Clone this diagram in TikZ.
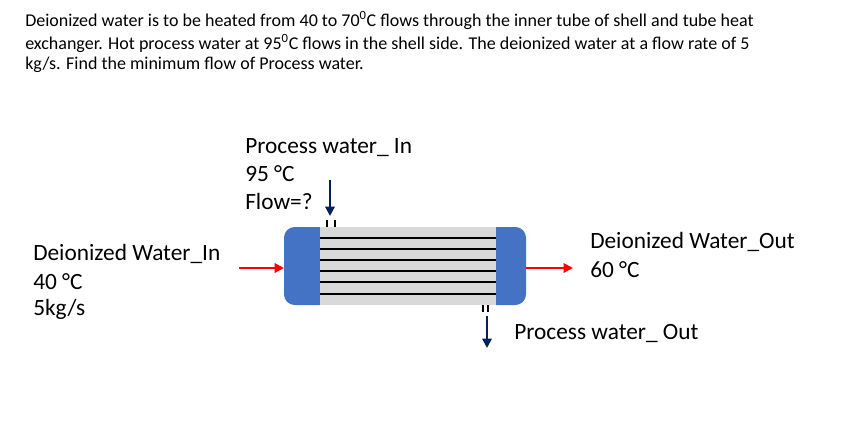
\documentclass[tikz,border=0pt]{standalone}
\usepackage{fontspec}
\setmainfont{Carlito}
\usetikzlibrary{arrows.meta}
\definecolor{capblue}{RGB}{68,114,196}
\definecolor{shellgray}{RGB}{217,217,217}
\definecolor{navy}{RGB}{0,32,96}
\begin{document}
\begin{tikzpicture}[x=0.75pt,y=-0.75pt,
  txt/.style={font=\fontsize{13.5}{16.5}\selectfont,anchor=west,inner sep=0},
  lbl/.style={font=\fontsize{17.5}{20}\selectfont,anchor=west,inner sep=0},
  red arrow/.style={draw=red,line width=1.5pt,-{Triangle[length=7pt,width=7pt]}},
  blue arrow/.style={draw=navy,line width=1.5pt,-{Triangle[length=7pt,width=7pt]}},
  tube/.style={black,line width=1.2pt},
  nozzle/.style={black,line width=0.8pt}]
\useasboundingbox (0,0) rectangle (853,447);
\fill[white] (0,0) rectangle (853,447);
\node[txt] (t1) at (25,20) {Deionized water is to be heated from 40 to 70\textsuperscript{0}C flows through the inner tube of shell and tube heat};
\node[txt] (t2) at (25,43) {exchanger. Hot process water at 95\textsuperscript{0}C flows in the shell side. The deionized water at a flow rate of 5};
\node[txt] (t3) at (25,65) {kg/s. Find the minimum flow of Process water.};
% exchanger
\fill[capblue,rounded corners=8pt] (284,227) rectangle (330,305);
\fill[capblue,rounded corners=8pt] (486,227) rectangle (526,305);
\fill[shellgray] (320,227) rectangle (496,305);
\coordinate (hxl) at (284,268);
\coordinate (hxr) at (526,268);
\foreach \y in {238,249,260,271,282,294} \draw[tube] (320,\y) -- (496,\y);
\draw[nozzle] (327,220) -- (327,227) (335,220) -- (335,227);
\draw[nozzle] (483,305) -- (483,312) (488,305) -- (488,312);
% labels
\node[lbl] (pin) at (245,148) {Process water\_ In};
\node[lbl] (pin2) at (245,174) {95 °C};
\node[lbl] (pin3) at (245,201) {Flow=?};
\node[lbl] (din) at (33,254) {Deionized Water\_In};
\node[lbl] (din2) at (33,282) {40 °C};
\node[lbl] (din3) at (33,309) {5kg/s};
\node[lbl] (dout) at (590,242) {Deionized Water\_Out};
\node[lbl] (dout2) at (590,270) {60 °C};
\node[lbl] (pout) at (514,333) {Process water\_ Out};
% arrows
\coordinate (a1) at (239,268);
\draw[red arrow] (a1) -- (hxl);
\coordinate (a2) at (573,268);
\draw[red arrow] (hxr) -- (a2);
\coordinate (b1) at (330,180);
\coordinate (b2) at (330,216);
\draw[blue arrow] (b1) -- (b2);
\coordinate (c1) at (487,316);
\coordinate (c2) at (487,348);
\draw[blue arrow] (c1) -- (c2);
\end{tikzpicture}
\end{document}
